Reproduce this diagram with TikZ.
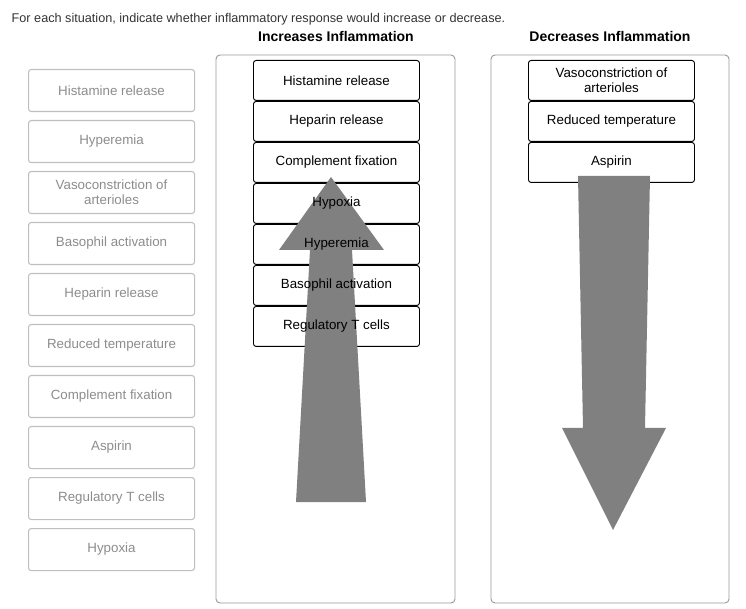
\documentclass[tikz,border=0pt]{standalone}
\usepackage{fontspec}
\setmainfont{Liberation Sans}
\begin{document}
\begin{tikzpicture}[x=0.75pt,y=-0.75pt,
  src/.style={draw=black!25,rounded corners=2pt,line width=0.8pt,minimum width=166*0.75pt,minimum height=42*0.75pt,text=black!45,font=\fontsize{10}{11.5}\selectfont,align=center,anchor=north west,inner sep=1pt},
  dst/.style={draw=black,fill=white,rounded corners=2pt,line width=0.7pt,minimum width=166*0.75pt,minimum height=40*0.75pt,anchor=north west},
  lbl/.style={font=\fontsize{10}{11.5}\selectfont,align=center},
  panel/.style={draw=black!40,rounded corners=3pt,line width=0.7pt},
  arr/.style={fill=black!50,draw=none}]
\useasboundingbox (0,0) rectangle (746,609);
\node[anchor=west,font=\fontsize{9.5}{11}\selectfont,text=black!80] (q) at (7,19) {For each situation, indicate whether inflammatory response would increase or decrease.};
\node[font=\bfseries\fontsize{10.5}{12}\selectfont] (h1) at (336,37) {Increases Inflammation};
\node[font=\bfseries\fontsize{10.5}{12}\selectfont] (h2) at (610,37) {Decreases Inflammation};
\draw[panel] (216,55) rectangle (455,603);
\draw[panel] (491,55) rectangle (729,603);
\foreach \t [count=\i from 0] in {Histamine release,Hyperemia,{Vasoconstriction of\\arterioles},Basophil activation,Heparin release,Reduced temperature,Complement fixation,Aspirin,Regulatory T cells,Hypoxia}
  \node[src] (s\i) at (28,69+51*\i) {\t};
\foreach \i in {0,...,6} \node[dst] (m\i) at (253,60+41*\i) {};
\foreach \i in {0,...,2} \node[dst] (r\i) at (528,60+41*\i) {};
\fill[arr] (296,502) -- (310,250) -- (279,250) -- (331,177) -- (384,250) -- (352,250) -- (366,502) -- cycle;
\fill[arr] (578,176) -- (650,176) -- (645,428) -- (666,428) -- (613,530) -- (562,428) -- (583,428) -- cycle;
\foreach \t [count=\i from 0] in {Histamine release,Heparin release,Complement fixation,Hypoxia,Hyperemia,Basophil activation,Regulatory T cells}
  \node[lbl] at (m\i.center) {\t};
\foreach \t [count=\i from 0] in {{Vasoconstriction of\\arterioles},Reduced temperature,Aspirin}
  \node[lbl] at (r\i.center) {\t};
\end{tikzpicture}
\end{document}
